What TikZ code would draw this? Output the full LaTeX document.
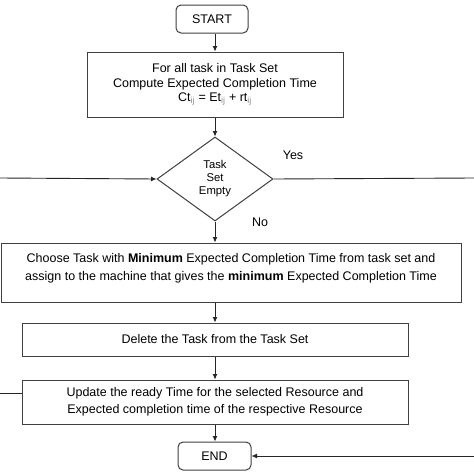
\documentclass[tikz,border=0pt]{standalone}
\usepackage{fontspec}
\setmainfont{Liberation Sans}
\usetikzlibrary{shapes.geometric,arrows.meta}
\newcommand\sbij{\textsubscript{\color{black!45}ij}}
\begin{document}
\begin{tikzpicture}[x=1pt,y=-1pt,
  font=\fontsize{12.5}{14.5}\selectfont,
  box/.style={draw=black!75, line width=1pt, align=center, inner sep=0pt},
  rbox/.style={box, rounded corners=5pt},
  arr/.style={-{Latex[length=5.5pt,width=5pt]}, draw=black!85, line width=0.9pt},
  ln/.style={draw=black!85, line width=0.9pt},
  lbl/.style={inner sep=0pt}]
\useasboundingbox (0,0) rectangle (474,474);
\fill[white] (0,0) rectangle (474,474);
\node[rbox, minimum width=72pt, minimum height=28pt] (start) at (212,19) {START};
\node[box, minimum width=256pt, minimum height=65pt] (comp) at (215,84.5)
  {For all task in Task Set\\Compute Expected Completion Time\\Ct\sbij{} = Et\sbij{} + rt\sbij};
\node[box, diamond, minimum width=116pt, minimum height=84pt,
  font=\fontsize{11.3}{13}\selectfont] (dec) at (215,179) {Task\\Set\\Empty};
\node[box, minimum width=460pt, minimum height=59pt, font=\fontsize{12.5}{18}\selectfont] (choose) at (231,272.5)
  {Choose Task with \textbf{Minimum} Expected Completion Time from task set and\\assign to the machine that gives the \textbf{minimum} Expected Completion Time\\[-6pt]\mbox{}};
\node[box, minimum width=386pt, minimum height=33pt] (del) at (215,339.5) {Delete the Task from the Task Set};
\node[box, minimum width=386pt, minimum height=44pt, font=\fontsize{12.5}{17}\selectfont] (upd) at (215,402)
  {Update the ready Time for the selected Resource and\\Expected completion time of the respective Resource};
\node[rbox, minimum width=73pt, minimum height=28pt] (end) at (214.5,456) {END};
\node[lbl] (yes) at (293,155) {Yes};
\node[lbl] (no) at (260,222) {No};
\coordinate (lin) at (0,178);
\coordinate (lupd) at (0,393);
\coordinate (rout) at (474,178);
\coordinate (rend) at (474,456);
\draw[arr] (comp.north |- start.south) -- (comp.north);
\draw[arr] (comp.south) -- (dec.north);
\draw[arr] (dec.south) -- (dec.south |- choose.north);
\draw[arr] (dec.south |- choose.south) -- (del.north);
\draw[arr] (del.south) -- (upd.north);
\draw[arr] (upd.south) -- (upd.south |- end.north);
\draw[arr] (lin) -- (dec.west);
\draw[ln] (dec.east) -- (rout);
\draw[ln] (lupd) -- (lupd -| upd.west);
\draw[arr] (rend) -- (end.east);
\end{tikzpicture}
\end{document}
